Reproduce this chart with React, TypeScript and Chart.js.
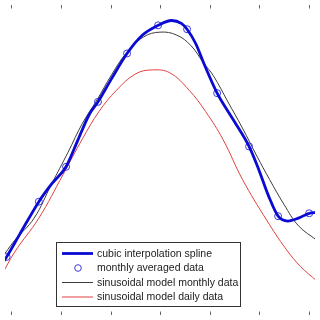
import React, { useEffect, useRef } from "react";
import { Chart, registerables } from "chart.js";

Chart.register(...registerables);

// day of year -> value (arbitrary units)
const splineDays = [40, 45.1, 58.1, 77.6, 90.3, 105.0, 116.7, 128.4, 137.2, 150.9, 166.5, 182.1, 197.8, 211.4, 221.2, 227.0, 235.8, 244.6, 257.3, 273.9, 289.5, 299.3, 309.1, 318.8, 328.6, 339.3, 350.1, 358];
const splineVals = [5.2, 6.0, 8.3, 11.7, 13.5, 15.3, 18.0, 20.7, 22.0, 24.4, 27.0, 28.9, 29.9, 30.4, 30.1, 29.5, 28.0, 25.8, 22.9, 20.1, 17.4, 15.0, 12.3, 10.2, 9.7, 10.0, 10.5, 10.6];

const monthDays = [45.1, 77.6, 105.0, 137.2, 166.5, 197.8, 227.0, 257.3, 289.5, 318.8, 350.1];
const monthVals = [6.0, 11.7, 15.3, 22.0, 27.0, 29.9, 29.5, 22.9, 17.4, 10.2, 10.5];

const sinMonthDays = [39.5, 53.2, 72.8, 90.3, 107.0, 121.6, 136.2, 150.9, 165.5, 183.1, 199.7, 216.4, 231.0, 243.7, 253.5, 268.2, 282.8, 297.4, 310.1, 324.8, 339.4, 358];
const sinMonthVals = [5.8, 7.7, 10.0, 13.5, 16.8, 19.8, 22.2, 24.8, 27.0, 28.7, 29.2, 28.9, 27.8, 26.0, 24.7, 22.0, 19.3, 16.4, 14.0, 11.4, 9.2, 7.7];

const sinDailyDays = [39.5, 53.2, 77.6, 102.0, 121.6, 138.2, 155.8, 175.4, 192.0, 209.6, 229.1, 245.7, 263.3, 282.8, 307.2, 326.8, 341.4, 358];
const sinDailyVals = [4.0, 6.5, 10.0, 14.5, 18.2, 21.0, 23.2, 24.9, 25.3, 25.0, 23.2, 21.0, 18.1, 14.0, 9.8, 6.8, 5.0, 3.5];

const xTicks = [50, 100, 150, 200, 250, 300, 350];

const labels = [
  "cubic interpolation spline",
  "monthly averaged data",
  "sinusoidal model monthly data",
  "sinusoidal model daily data",
];

const toPts = (xs: number[], ys: number[]) => xs.map((x, i) => ({ x, y: ys[i] }));

const tickPlugin = {
  id: "inwardTicks",
  afterDraw(chart: any) {
    const ctx = chart.ctx;
    const sx = chart.scales.x;
    const { top, bottom } = chart.chartArea;
    ctx.save();
    ctx.strokeStyle = "#666";
    ctx.lineWidth = 1;
    xTicks.forEach((v) => {
      const px = Math.round(sx.getPixelForValue(v)) + 0.5;
      ctx.beginPath();
      ctx.moveTo(px, top);
      ctx.lineTo(px, top + 3.5);
      ctx.moveTo(px, bottom - 3.5);
      ctx.lineTo(px, bottom);
      ctx.stroke();
    });
    ctx.restore();
  },
};

const legendPlugin = {
  id: "boxLegend",
  afterDraw(chart: any) {
    const ctx = chart.ctx;
    const x0 = 56.5, y0 = 242.5, w = 184, h = 64;
    ctx.save();
    ctx.fillStyle = "#fff";
    ctx.fillRect(x0, y0, w, h);
    ctx.strokeStyle = "#333";
    ctx.lineWidth = 1;
    ctx.strokeRect(x0, y0, w, h);
    ctx.font = '10.5px "Liberation Sans", Arial, sans-serif';
    ctx.textBaseline = "middle";
    chart.data.datasets.forEach((ds: any, i: number) => {
      const y = 253.5 + i * 14.5;
      if (ds.showLine === false) {
        ctx.beginPath();
        ctx.strokeStyle = ds.borderColor;
        ctx.lineWidth = 1;
        ctx.arc(78, y, 3.3, 0, Math.PI * 2);
        ctx.stroke();
      } else {
        ctx.beginPath();
        ctx.strokeStyle = ds.borderColor;
        ctx.lineWidth = ds.borderWidth;
        ctx.moveTo(62, y);
        ctx.lineTo(93, y);
        ctx.stroke();
      }
      ctx.fillStyle = "#1a1a1a";
      ctx.fillText(ds.label, 97, y + 0.5);
    });
    ctx.restore();
  },
};

export default function App() {
  const ref = useRef<HTMLCanvasElement>(null);
  useEffect(() => {
    if (!ref.current) return;
    const chart = new Chart(ref.current, {
      type: "line",
      data: {
        datasets: [
          {
            label: labels[0],
            data: toPts(splineDays, splineVals),
            borderColor: "#0a0ad2",
            borderWidth: 2.8,
            pointRadius: 0,
            cubicInterpolationMode: "monotone",
            fill: false,
          },
          {
            label: labels[1],
            data: toPts(monthDays, monthVals),
            showLine: false,
            borderColor: "#3a3ae0",
            backgroundColor: "rgba(0,0,0,0)",
            pointRadius: 3.5,
            pointBorderWidth: 1,
            pointStyle: "circle",
          },
          {
            label: labels[2],
            data: toPts(sinMonthDays, sinMonthVals),
            borderColor: "#3c3c3c",
            borderWidth: 1,
            pointRadius: 0,
            tension: 0.4,
            fill: false,
          },
          {
            label: labels[3],
            data: toPts(sinDailyDays, sinDailyVals),
            borderColor: "#e04040",
            borderWidth: 1,
            pointRadius: 0,
            tension: 0.4,
            fill: false,
          },
        ],
      } as any,
      options: {
        animation: false,
        responsive: false,
        devicePixelRatio: 1,
        layout: { padding: 0 },
        plugins: { legend: { display: false }, tooltip: { enabled: false } },
        scales: {
          x: { type: "linear", min: 43.46, max: 355.96, display: false },
          y: { type: "linear", min: 0, max: 32, display: false },
        },
      },
      plugins: [tickPlugin, legendPlugin],
    });
    return () => chart.destroy();
  }, []);
  return (
    <div style={{ position: "fixed", left: 0, top: 0, width: 320, height: 320, background: "#fff" }}>
      <canvas ref={ref} width={320} height={320} style={{ width: 320, height: 320, display: "block" }} />
    </div>
  );
}
